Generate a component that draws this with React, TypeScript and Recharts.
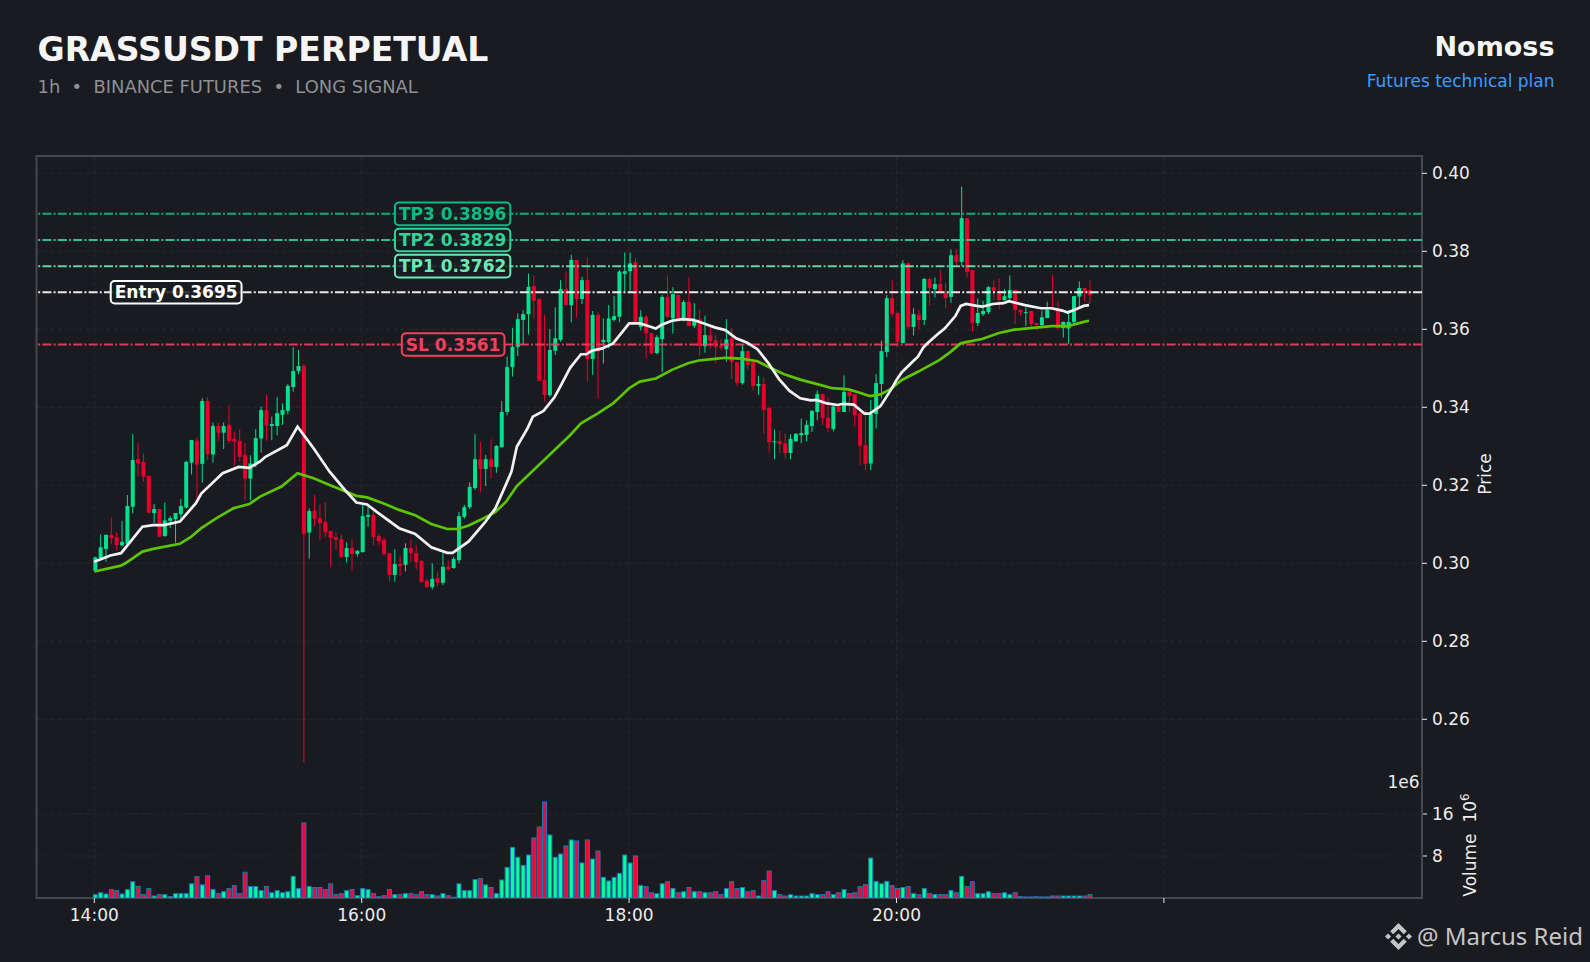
import {
  Bar,
  CartesianGrid,
  ComposedChart,
  Line,
  ReferenceArea,
  ReferenceDot,
  ReferenceLine,
  XAxis,
  YAxis,
} from "recharts"

const opens = [
  0.2981, 0.3013, 0.3037, 0.3073, 0.3067, 0.3046, 0.305, 0.3145, 0.3267, 0.326,
  0.3224, 0.3129, 0.3139, 0.307, 0.3109, 0.3113, 0.3126, 0.3143, 0.3258, 0.3314,
  0.3255, 0.3416, 0.3279, 0.3352, 0.3335, 0.3355, 0.3319, 0.3314, 0.3278, 0.3217,
  0.3255, 0.332, 0.3393, 0.3352, 0.3352, 0.3381, 0.3391, 0.3452, 0.3493, 0.3506,
  0.3079, 0.3134, 0.3116, 0.3106, 0.3083, 0.3067, 0.3062, 0.3016, 0.3039, 0.3024,
  0.3029, 0.3119, 0.3124, 0.307, 0.306, 0.3026, 0.297, 0.2998, 0.2996, 0.3039,
  0.3026, 0.3006, 0.2955, 0.2939, 0.2962, 0.295, 0.2991, 0.2988, 0.3008, 0.3119,
  0.3144, 0.3193, 0.3267, 0.3242, 0.3267, 0.3247, 0.3298, 0.3388, 0.3503, 0.3555,
  0.3624, 0.3639, 0.3711, 0.3678, 0.347, 0.3431, 0.3545, 0.3573, 0.3703, 0.3662,
  0.3778, 0.3678, 0.3726, 0.3524, 0.3637, 0.3567, 0.3567, 0.3624, 0.3632, 0.3742,
  0.3749, 0.3772, 0.3606, 0.3632, 0.359, 0.3539, 0.3575, 0.3683, 0.3628, 0.3688,
  0.3626, 0.367, 0.3609, 0.3626, 0.3557, 0.3585, 0.3572, 0.3557, 0.3549, 0.3577,
  0.3516, 0.3462, 0.3544, 0.3516, 0.3455, 0.346, 0.3398, 0.3311, 0.3313, 0.3308,
  0.3283, 0.3313, 0.3329, 0.3329, 0.3352, 0.3388, 0.3434, 0.3373, 0.3344, 0.3402,
  0.3388, 0.3439, 0.3434, 0.3383, 0.3303, 0.3256, 0.3383, 0.346, 0.3542, 0.368,
  0.3642, 0.3565, 0.3769, 0.3606, 0.3637, 0.3624, 0.3729, 0.3703, 0.3716, 0.3693,
  0.3683, 0.379, 0.3773, 0.3885, 0.3752, 0.3616, 0.3639, 0.3644, 0.3708, 0.3698,
  0.3675, 0.368, 0.3701, 0.365, 0.3643, 0.3647, 0.3616, 0.3611, 0.3629, 0.3655,
  0.3653, 0.3603, 0.3602, 0.3619, 0.3684, 0.3706, 0.37,
]

const closes = [
  0.3015, 0.3041, 0.3073, 0.3065, 0.3047, 0.3055, 0.3147, 0.3265, 0.3257, 0.3222,
  0.313, 0.3139, 0.3068, 0.311, 0.3116, 0.3129, 0.3147, 0.326, 0.3316, 0.3253,
  0.3416, 0.328, 0.3352, 0.3335, 0.3352, 0.3314, 0.3312, 0.3273, 0.3217, 0.3256,
  0.3321, 0.3393, 0.3353, 0.3357, 0.3385, 0.3393, 0.3455, 0.3493, 0.3506, 0.3075,
  0.3134, 0.3114, 0.3103, 0.308, 0.3065, 0.306, 0.3016, 0.3039, 0.3024, 0.3032,
  0.3121, 0.3124, 0.3067, 0.3057, 0.3024, 0.297, 0.2998, 0.2993, 0.3039, 0.3026,
  0.3003, 0.2952, 0.2939, 0.296, 0.295, 0.2991, 0.2985, 0.3011, 0.3121, 0.3144,
  0.3196, 0.3267, 0.3242, 0.3267, 0.3247, 0.3301, 0.3388, 0.3503, 0.3555, 0.3626,
  0.3639, 0.3709, 0.3673, 0.3468, 0.3432, 0.3547, 0.3577, 0.3703, 0.3662, 0.3778,
  0.3678, 0.3726, 0.3524, 0.3637, 0.3543, 0.3573, 0.3628, 0.3634, 0.3748, 0.3749,
  0.3769, 0.3618, 0.3632, 0.359, 0.3538, 0.358, 0.3683, 0.3632, 0.369, 0.3626,
  0.367, 0.3609, 0.3624, 0.3557, 0.3585, 0.357, 0.3555, 0.3553, 0.3574, 0.3516,
  0.3463, 0.3544, 0.3508, 0.3455, 0.346, 0.3393, 0.3311, 0.3313, 0.3306, 0.3283,
  0.3319, 0.3332, 0.3334, 0.3355, 0.3391, 0.3434, 0.3373, 0.3347, 0.3402, 0.3388,
  0.3439, 0.3429, 0.338, 0.3301, 0.3255, 0.3383, 0.3462, 0.3544, 0.368, 0.3639,
  0.3567, 0.3769, 0.3606, 0.3639, 0.3624, 0.3729, 0.3706, 0.3716, 0.3693, 0.368,
  0.379, 0.3773, 0.3885, 0.3747, 0.3616, 0.3642, 0.3647, 0.3708, 0.3698, 0.3675,
  0.3685, 0.3701, 0.365, 0.3644, 0.3644, 0.3614, 0.3611, 0.3631, 0.365, 0.365,
  0.3603, 0.3619, 0.3619, 0.3685, 0.3706, 0.3696, 0.3688,
]

const highs = [
  0.3017, 0.3074, 0.3074, 0.3118, 0.3079, 0.3109, 0.3175, 0.3331, 0.331, 0.3282,
  0.3224, 0.3152, 0.3139, 0.3156, 0.3121, 0.3129, 0.3165, 0.3263, 0.3316, 0.3323,
  0.3423, 0.3426, 0.3361, 0.3361, 0.3361, 0.3405, 0.3338, 0.3344, 0.3309, 0.3277,
  0.3344, 0.3402, 0.3433, 0.3376, 0.3426, 0.341, 0.346, 0.3554, 0.3547, 0.3511,
  0.3141, 0.3175, 0.315, 0.3156, 0.3083, 0.3079, 0.3075, 0.3054, 0.3061, 0.3034,
  0.315, 0.3145, 0.3137, 0.3075, 0.3067, 0.3027, 0.3036, 0.3019, 0.3051, 0.3061,
  0.3047, 0.3008, 0.2961, 0.3, 0.2979, 0.3026, 0.3007, 0.3017, 0.3132, 0.315,
  0.3207, 0.3331, 0.3312, 0.3278, 0.3318, 0.3303, 0.3416, 0.353, 0.3604, 0.3641,
  0.3649, 0.3743, 0.3738, 0.3678, 0.3637, 0.36, 0.3656, 0.3726, 0.3749, 0.3791,
  0.3778, 0.3735, 0.3784, 0.3647, 0.3644, 0.3628, 0.3662, 0.3685, 0.3752, 0.3797,
  0.3797, 0.3782, 0.3649, 0.3637, 0.359, 0.3585, 0.3688, 0.3738, 0.3708, 0.3688,
  0.3675, 0.3733, 0.3667, 0.3651, 0.3635, 0.3611, 0.3585, 0.3575, 0.3626, 0.3604,
  0.3516, 0.356, 0.3544, 0.3516, 0.3481, 0.3477, 0.3402, 0.3343, 0.334, 0.3333,
  0.3331, 0.3334, 0.3371, 0.3367, 0.3393, 0.3443, 0.3434, 0.3425, 0.341, 0.3406,
  0.3482, 0.3449, 0.3434, 0.3393, 0.3393, 0.3419, 0.3485, 0.3571, 0.3688, 0.3726,
  0.3642, 0.3777, 0.3771, 0.3654, 0.365, 0.3732, 0.3731, 0.3733, 0.3754, 0.3719,
  0.3805, 0.3805, 0.3966, 0.3885, 0.3752, 0.3679, 0.3673, 0.3711, 0.3726, 0.3731,
  0.3703, 0.3738, 0.3701, 0.365, 0.3656, 0.3647, 0.3616, 0.3648, 0.3671, 0.3741,
  0.3673, 0.362, 0.365, 0.3685, 0.3723, 0.3706, 0.3725,
]

const lows = [
  0.2979, 0.3008, 0.3004, 0.3049, 0.3034, 0.3043, 0.3047, 0.3128, 0.3222, 0.3209,
  0.3128, 0.3103, 0.3067, 0.3068, 0.309, 0.3053, 0.3115, 0.3141, 0.3228, 0.3158,
  0.3207, 0.3265, 0.3258, 0.3314, 0.3293, 0.3308, 0.3248, 0.3261, 0.3162, 0.3161,
  0.3246, 0.3284, 0.3314, 0.3316, 0.3328, 0.3355, 0.3382, 0.344, 0.3485, 0.2489,
  0.3012, 0.3094, 0.3058, 0.3067, 0.2991, 0.3034, 0.3015, 0.3002, 0.2981, 0.3017,
  0.3027, 0.3094, 0.3047, 0.3047, 0.3019, 0.2953, 0.2953, 0.2967, 0.2979, 0.3004,
  0.2985, 0.295, 0.2936, 0.2933, 0.294, 0.2944, 0.2981, 0.2986, 0.3, 0.3114,
  0.3139, 0.3188, 0.3182, 0.3198, 0.3218, 0.3232, 0.3297, 0.3379, 0.3479, 0.3532,
  0.3561, 0.3587, 0.3628, 0.3468, 0.3415, 0.3427, 0.3534, 0.3568, 0.3662, 0.3618,
  0.363, 0.3665, 0.3466, 0.3483, 0.3423, 0.3512, 0.3551, 0.362, 0.3618, 0.3698,
  0.3697, 0.3615, 0.3597, 0.3526, 0.3536, 0.3536, 0.349, 0.3628, 0.3589, 0.3624,
  0.362, 0.3607, 0.3604, 0.3532, 0.354, 0.3551, 0.3513, 0.3547, 0.3517, 0.3473,
  0.3455, 0.3458, 0.3496, 0.3444, 0.3432, 0.3333, 0.3284, 0.3267, 0.3282, 0.3269,
  0.3267, 0.3311, 0.3308, 0.3313, 0.3337, 0.3367, 0.3355, 0.3337, 0.3338, 0.3388,
  0.3388, 0.3388, 0.335, 0.3252, 0.3239, 0.3239, 0.3346, 0.3423, 0.3528, 0.3632,
  0.3555, 0.3564, 0.36, 0.3584, 0.36, 0.3611, 0.3661, 0.3682, 0.3692, 0.3654,
  0.3668, 0.3759, 0.3762, 0.3733, 0.3594, 0.3608, 0.3634, 0.3639, 0.3675, 0.3651,
  0.3673, 0.3673, 0.3614, 0.3634, 0.3608, 0.3605, 0.3598, 0.3603, 0.3629, 0.365,
  0.3598, 0.3579, 0.3562, 0.3614, 0.3658, 0.3671, 0.3665,
]

// millions
const volumes = [
  0.64, 1.0, 0.76, 1.6, 1.4, 0.76, 1.6, 3.1, 2.2, 0.64,
  1.8, 0.38, 0.64, 0.64, 0.25, 0.83, 0.83, 0.83, 2.7, 4.06,
  2.5, 4.25, 1.6, 0.83, 1.2, 1.8, 2.35, 0.83, 4.9, 2.2,
  2.2, 1.4, 2.2, 1.0, 1.4, 1.0, 1.2, 4.13, 1.8, 14.3,
  2.2, 2.0, 2.0, 1.6, 2.7, 0.64, 0.83, 1.4, 1.6, 0.44,
  1.8, 1.6, 0.83, 0.25, 0.44, 1.6, 0.64, 0.64, 0.83, 0.83,
  0.64, 1.2, 0.64, 0.64, 0.38, 0.83, 0.44, 0.13, 2.7, 1.4,
  1.4, 3.5, 3.7, 2.5, 2.0, 0.83, 3.43, 5.84, 9.65, 7.75,
  6.22, 8.19, 11.43, 13.52, 18.29, 12.0, 7.75, 8.38, 9.9, 11.05,
  10.86, 6.67, 11.05, 7.43, 8.95, 3.94, 3.24, 3.94, 4.7, 8.19,
  6.67, 8.0, 2.35, 2.16, 1.0, 0.83, 2.7, 3.1, 1.8, 1.0,
  1.2, 2.0, 1.2, 1.2, 1.0, 1.0, 1.2, 0.64, 1.8, 3.1,
  1.8, 2.0, 1.2, 1.4, 0.38, 3.3, 5.14, 1.4, 0.64, 0.38,
  0.64, 0.38, 0.38, 0.38, 0.83, 0.64, 0.64, 1.2, 0.64, 1.0,
  1.6, 0.83, 1.0, 2.16, 2.54, 7.6, 3.17, 2.7, 3.17, 2.35,
  1.8, 2.0, 2.16, 0.83, 0.64, 1.8, 0.83, 0.64, 0.64, 0.64,
  1.4, 1.0, 4.13, 2.16, 3.1, 0.83, 0.83, 1.2, 0.83, 0.83,
  1.0, 0.64, 1.0, 0.25, 0.2, 0.2, 0.25, 0.2, 0.2, 0.38,
  0.38, 0.38, 0.38, 0.38, 0.38, 0.38, 0.64,
]

const fastAt = [
  0, 3, 5, 6, 9, 11, 13, 16, 19, 20, 22, 24, 27, 29, 31, 32, 36, 38, 41, 44, 47, 49, 51, 53, 57, 60, 63, 66, 67, 70, 73, 75,
  77, 78, 79, 81, 82, 84, 86, 87, 89, 91, 92, 93, 95, 97, 99, 100, 102, 103, 105, 106, 108, 110, 112, 114, 116, 118, 120,
  122, 124, 126, 128, 130, 132, 134, 135, 137, 139, 140, 142, 144, 145, 147, 149, 150, 151, 153, 154, 155, 156, 158, 159,
  161, 162, 163, 165, 166, 168, 170, 171, 174, 177, 179, 181, 182, 184, 185, 186,
]
const fastValues = [
  0.3004, 0.302, 0.3026, 0.3043, 0.3094, 0.3098, 0.3098, 0.3107, 0.3154, 0.3179, 0.3205, 0.3231, 0.3247, 0.3245, 0.3261,
  0.3273, 0.3303, 0.335, 0.3295, 0.3235, 0.3186, 0.3156, 0.3151, 0.313, 0.309, 0.3075, 0.3041, 0.3027, 0.3027, 0.3056,
  0.3104, 0.3141, 0.3203, 0.3235, 0.3299, 0.3346, 0.3376, 0.3391, 0.3425, 0.345, 0.3502, 0.3536, 0.3536, 0.3545, 0.3551,
  0.3564, 0.3598, 0.3615, 0.3615, 0.3611, 0.3602, 0.3611, 0.3622, 0.3626, 0.3624, 0.3615, 0.3605, 0.3598, 0.3577, 0.3566,
  0.3549, 0.3514, 0.3473, 0.3442, 0.3423, 0.3418, 0.3419, 0.341, 0.3406, 0.3409, 0.3407, 0.3384, 0.3384, 0.3403, 0.3446,
  0.347, 0.349, 0.3517, 0.353, 0.3553, 0.3567, 0.3591, 0.3602, 0.3634, 0.366, 0.3665, 0.366, 0.3658, 0.3665, 0.3667,
  0.3672, 0.3662, 0.3654, 0.3654, 0.3648, 0.3643, 0.3654, 0.366, 0.3662,
]
const slowAt = [
  0, 5, 6, 9, 11, 16, 18, 20, 23, 26, 29, 31, 35, 38, 41, 44, 47, 49, 51, 54, 57, 60, 63, 66, 68, 70, 73, 75, 77, 79, 89,
  91, 94, 97, 100, 102, 105, 108, 111, 113, 116, 118, 121, 124, 126, 129, 132, 135, 138, 141, 143, 145, 147, 149, 151,
  154, 158, 160, 162, 163, 166, 169, 172, 175, 179, 182, 185, 186,
]
const slowValues = [
  0.2979, 0.2994, 0.3002, 0.303, 0.3037, 0.305, 0.3067, 0.309, 0.3117, 0.3141, 0.3152, 0.3171, 0.3197, 0.3231, 0.3218,
  0.3201, 0.3184, 0.3173, 0.3169, 0.3154, 0.3137, 0.3123, 0.3101, 0.3088, 0.3088, 0.3097, 0.3117, 0.3132, 0.3158, 0.3198,
  0.3329, 0.3359, 0.3383, 0.341, 0.3449, 0.3466, 0.3474, 0.3496, 0.3513, 0.352, 0.3524, 0.3527, 0.3525, 0.3518, 0.3504,
  0.3485, 0.3471, 0.346, 0.3449, 0.3446, 0.3438, 0.3429, 0.3433, 0.3448, 0.347, 0.3491, 0.3521, 0.3541, 0.3564, 0.3567,
  0.3575, 0.359, 0.3599, 0.3603, 0.3608, 0.3608, 0.3619, 0.3622,
]

const priceTicks = [0.26, 0.28, 0.3, 0.32, 0.34, 0.36, 0.38, 0.4]
const volumeTicks = [8, 16]
const timeTicks = [0, 50, 100, 150, 200]
const timeLabels = ["14:00", "16:00", "18:00", "20:00", ""]

const levelNames = ["TP3 0.3896", "TP2 0.3829", "TP1 0.3762", "Entry 0.3695", "SL 0.3561"]
const levelPrices = [0.3896, 0.3829, 0.3762, 0.3695, 0.3561]
const levelColors = ["#10b981", "#34d399", "#6ee7b7", "#ffffff", "#f43f5e"]
const levelLabelAt = [67, 67, 67, 15.3, 67.1]

const rows = opens.map((open, i) => {
  const fastIdx = fastAt.indexOf(i)
  const slowIdx = slowAt.indexOf(i)
  return {
    i,
    open,
    close: closes[i],
    high: highs[i],
    low: lows[i],
    volume: volumes[i],
    fast: fastIdx >= 0 ? fastValues[fastIdx] : null,
    slow: slowIdx >= 0 ? slowValues[slowIdx] : null,
  }
})

const BG = "#191b20"
const GRID = "#27292e"
const FRAME = "#44474d"
const TICK = "#ececec"
const UP = "#00e08f"
const DOWN = "#e8002d"
const X_DOMAIN = [-10.81, 248.26]
const PRICE_DOMAIN = [0.21418, 0.40444]
const VOLUME_DOMAIN = [0, 141.3]
const FONT = "DejaVu Sans"
const axisTick = { fill: TICK, fontSize: 17, fontFamily: FONT }

// recharts truncates the bar offset on a number axis, this puts marks back on their tick
const barNudge = (width: number) => (5.348 - width) / 2

function Candle(props: any) {
  const { x, y, width, height, payload } = props
  const { open, close, high, low } = payload
  const perUnit = height / (high - low)
  const top = y + (high - Math.max(open, close)) * perUnit
  const bodyH = Math.max(Math.abs(open - close) * perUnit, 1)
  const color = close >= open ? UP : DOWN
  const left = x + barNudge(width)
  const cx = left + width / 2
  return (
    <g>
      <line x1={cx} x2={cx} y1={y} y2={y + height} stroke={color} strokeWidth={1} />
      <rect x={left} y={top} width={width} height={bodyH} fill={color} />
    </g>
  )
}

function VolumeBar(props: any) {
  const { x, y, width, height, payload } = props
  return (
    <rect
      x={x + barNudge(width)}
      y={y}
      width={width}
      height={height}
      fill={payload.close >= payload.open ? "#00ff9d" : "#ff0033"}
      stroke="#1f77b4"
      strokeWidth={1}
    />
  )
}

function textWidth(text: string) {
  const ctx = document.createElement("canvas").getContext("2d")
  if (!ctx) return text.length * 10
  ctx.font = `bold 17px ${FONT}`
  return ctx.measureText(text).width
}

function LevelTag({ cx, cy, name, color }: any) {
  const w = textWidth(name) + 8
  return (
    <g>
      <rect x={cx - w / 2} y={cy - 11.3} width={w} height={22.6} rx={4} fill={BG} fillOpacity={0.85} stroke={color} strokeWidth={2} />
      <text x={cx} y={cy + 6} textAnchor="middle" fill={color} fontSize={17} fontWeight="bold" fontFamily={FONT}>
        {name}
      </text>
    </g>
  )
}

function BinanceMark() {
  return (
    <svg width={27} height={27} viewBox="0 0 126.61 126.61" style={{ position: "absolute", left: 1384.5, top: 922.5 }}>
      <g fill="#c4c5c7">
        <path d="M38.73 53.2l24.59-24.58 24.6 24.6 14.3-14.31L63.32 0 24.42 38.9z" />
        <path d="M0 63.31l14.3-14.31 14.31 14.31-14.31 14.3z" />
        <path d="M38.73 73.41l24.59 24.59 24.6-24.6 14.31 14.29-38.9 38.91-38.91-38.88z" />
        <path d="M98 63.31l14.3-14.31 14.31 14.31-14.31 14.3z" />
        <path d="M77.83 63.3L63.32 48.78 52.59 59.51l-1.24 1.23-2.54 2.54 14.51 14.52 14.51-14.47z" />
      </g>
    </svg>
  )
}

const abs = (s: React.CSSProperties): React.CSSProperties => ({
  position: "absolute",
  whiteSpace: "nowrap",
  fontFamily: FONT,
  lineHeight: 1,
  ...s,
})

export default function App() {
  return (
    <div style={{ position: "absolute", left: 0, top: 0, width: 1590, height: 962, background: BG, overflow: "hidden" }}>
      <div style={abs({ left: 37.5, top: 33, fontSize: 33.1, fontWeight: "bold", color: "#f5f5f5" })}>GRASSUSDT PERPETUAL</div>
      <div style={abs({ left: 37.5, top: 77.5, fontSize: 17.9, color: "#8d9096" })}>
        1h &nbsp;•&nbsp; BINANCE FUTURES &nbsp;•&nbsp; LONG SIGNAL
      </div>
      <div style={abs({ right: 35.5, top: 33, fontSize: 27, fontWeight: "bold", color: "#f5f5f5" })}>Nomoss</div>
      <div style={abs({ right: 35.5, top: 72.5, fontSize: 17, color: "#3b9dff" })}>Futures technical plan</div>

      <ComposedChart
        width={1590}
        height={962}
        data={rows}
        margin={{ top: 156, right: 166, left: 36.5, bottom: 0 }}
        style={{ position: "absolute", left: 0, top: 0 }}
      >
        <CartesianGrid yAxisId="price" stroke={GRID} strokeDasharray="4 3" />
        <CartesianGrid yAxisId="volume" stroke={GRID} strokeDasharray="4 3" vertical={false} />

        <XAxis
          type="number"
          dataKey="i"
          domain={X_DOMAIN}
          ticks={timeTicks}
          tickFormatter={(v) => timeLabels[timeTicks.indexOf(v)]}
          allowDataOverflow
          height={64}
          axisLine={false}
          tickLine={{ stroke: TICK }}
          tickSize={5}
          tickMargin={6}
          tick={axisTick}
        />
        <XAxis xAxisId="vol" type="number" dataKey="i" domain={X_DOMAIN} allowDataOverflow hide />
        <YAxis
          yAxisId="price"
          orientation="right"
          domain={PRICE_DOMAIN}
          ticks={priceTicks}
          tickFormatter={(v) => v.toFixed(2)}
          allowDataOverflow
          width={1}
          axisLine={false}
          tickLine={{ stroke: TICK }}
          tickSize={5}
          tickMargin={5}
          tick={axisTick}
        />
        <YAxis
          yAxisId="volume"
          orientation="right"
          domain={VOLUME_DOMAIN}
          ticks={volumeTicks}
          allowDataOverflow
          width={1}
          axisLine={false}
          tickLine={{ stroke: TICK }}
          tickSize={4}
          tickMargin={5}
          tick={axisTick}
        />

        <Bar xAxisId="vol" yAxisId="volume" dataKey="volume" barSize={4} shape={<VolumeBar />} isAnimationActive={false} />

        <Bar
          yAxisId="price"
          dataKey={(r: any) => [r.low, r.high]}
          barSize={4}
          shape={<Candle />}
          isAnimationActive={false}
        />

        {levelPrices.map((p, k) => (
          <ReferenceLine
            key={levelNames[k]}
            yAxisId="price"
            y={p}
            stroke={levelColors[k]}
            strokeOpacity={0.9}
            strokeWidth={2}
            strokeDasharray="9 2.2 2 2.2"
          />
        ))}

        <Line yAxisId="price" type="linear" dataKey="slow" stroke="#5cc400" strokeWidth={2.7} dot={false} connectNulls isAnimationActive={false} />
        <Line yAxisId="price" type="linear" dataKey="fast" stroke="#f2f2f2" strokeWidth={2.7} dot={false} connectNulls isAnimationActive={false} />

        {levelPrices.map((p, k) => (
          <ReferenceDot
            key={levelNames[k]}
            yAxisId="price"
            x={levelLabelAt[k]}
            y={p}
            shape={(s: any) => <LevelTag cx={s.cx} cy={s.cy} name={levelNames[k]} color={levelColors[k]} />}
          />
        ))}

        <ReferenceArea
          yAxisId="price"
          x1={X_DOMAIN[0]}
          x2={X_DOMAIN[1]}
          y1={PRICE_DOMAIN[0]}
          y2={PRICE_DOMAIN[1]}
          fill="none"
          stroke={FRAME}
          strokeWidth={2}
        />
      </ComposedChart>

      <div style={abs({ right: 170.5, top: 773.5, fontSize: 17, color: TICK })}>1e6</div>
      <div style={abs({ left: 1484.5, top: 473.5, fontSize: 17, color: TICK, transform: "translate(-50%,-50%) rotate(-90deg)" })}>Price</div>
      <div style={abs({ left: 1470, top: 845, fontSize: 17, color: TICK, transform: "translate(-50%,-50%) rotate(-90deg)" })}>
        Volume &nbsp;10<sup style={{ fontSize: 12, lineHeight: 0 }}>6</sup>
      </div>

      <BinanceMark />
      <div style={abs({ left: 1417, top: 923.5, fontSize: 24, color: "#c4c5c7", fontFamily: "Noto Sans" })}>@ Marcus Reid</div>
    </div>
  )
}
